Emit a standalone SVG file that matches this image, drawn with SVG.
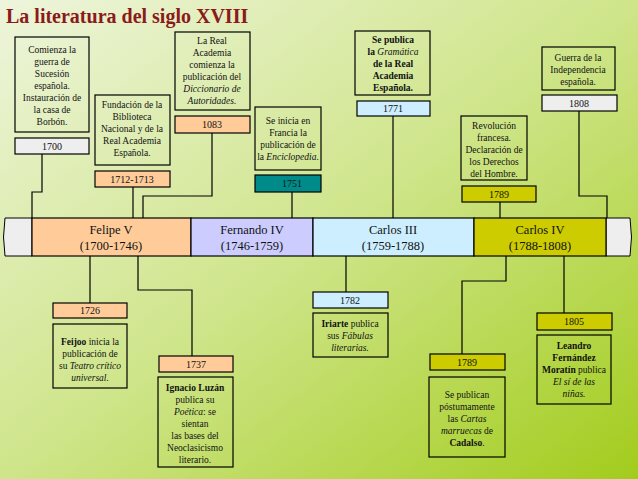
<svg xmlns="http://www.w3.org/2000/svg" width="638" height="479" viewBox="0 0 638 479" font-family="'Liberation Serif', serif">
<defs>
<linearGradient id="bg" x1="0" y1="0" x2="1" y2="1">
<stop offset="0" stop-color="#eef5dc"/><stop offset="0.5" stop-color="#cfe58a"/><stop offset="1" stop-color="#a2cc1c"/>
</linearGradient>
</defs>
<style>
.b{fill:none;stroke:#000;stroke-width:1.2}
.d{stroke:#000;stroke-width:1.2}
text,tspan{font-family:'Liberation Serif',serif}
text{font-size:9.5px;fill:#111;text-anchor:middle}
.dt{font-size:10px}
.r{font-size:12.5px}
.c{fill:none;stroke:#000;stroke-width:1.2}
</style>
<rect width="638" height="479" fill="url(#bg)"/>
<text x="6" y="23" style="font-size:20px;font-weight:bold;fill:#8b1a1a;text-anchor:start">La literatura del siglo XVIII</text>
<g id="connectors">
<path class="c" d="M42 154V192H32V218"/>
<path class="c" d="M133 187V218"/>
<path class="c" d="M212 133V196H143V218"/>
<path class="c" d="M292 192V218"/>
<path class="c" d="M393 116V218"/>
<path class="c" d="M500 202V218"/>
<path class="c" d="M579 111V196H607V218"/>
<path class="c" d="M90 256V303"/>
<path class="c" d="M138 256V290H192V356"/>
<path class="c" d="M346 256V292"/>
<path class="c" d="M506 256V281H462V354"/>
<path class="c" d="M564 256V313"/>
</g>
<g id="timeline">
<path d="M5 218H32V256H5Q2 237 5 218Z" fill="#eeeeee" stroke="#000"/>
<path d="M606 218H630Q633 237 630 256H606Z" fill="#eeeeee" stroke="#000"/>
<rect x="32" y="218" width="159" height="38" fill="#ffcc99" class="d"/>
<rect x="191" y="218" width="122" height="38" fill="#ccccff" class="d"/>
<rect x="313" y="218" width="161" height="38" fill="#cceeff" class="d"/>
<rect x="474" y="218" width="132" height="38" fill="#cccc00" class="d"/>
<text class="r" x="111" y="234">Felipe V</text><text class="r" x="111" y="250">(1700-1746)</text>
<text class="r" x="252" y="234">Fernando IV</text><text class="r" x="252" y="250">(1746-1759)</text>
<text class="r" x="393" y="234">Carlos III</text><text class="r" x="393" y="250">(1759-1788)</text>
<text class="r" x="540" y="234">Carlos IV</text><text class="r" x="540" y="250">(1788-1808)</text>
</g>
<g id="n1700">
<rect class="b" x="15" y="37" width="74" height="95"/>
<text x="52" y="53">Comienza la</text><text x="52" y="65">guerra de</text><text x="52" y="77">Sucesión</text><text x="52" y="89">española.</text><text x="52" y="101">Instauración de</text><text x="52" y="113">la casa de</text><text x="52" y="125">Borbón.</text>
<rect class="d" x="15" y="138" width="74" height="16" fill="#eeeeee"/><text class="dt" x="52" y="150">1700</text>
</g>
<g id="n1712">
<rect class="b" x="95" y="95" width="75" height="70"/>
<text x="132" y="108">Fundación de la</text><text x="132" y="120">Biblioteca</text><text x="132" y="132">Nacional y de la</text><text x="132" y="144">Real Academia</text><text x="132" y="156">Española.</text>
<rect class="d" x="95" y="171" width="75" height="16" fill="#ffcc99"/><text class="dt" x="132" y="183">1712-1713</text>
</g>
<g id="n1083">
<rect class="b" x="175" y="32" width="75" height="78"/>
<text x="212" y="44">La Real</text><text x="212" y="56">Academia</text><text x="212" y="68">comienza la</text><text x="212" y="80">publicación del</text><text x="212" y="92" font-style="italic">Diccionario de</text><text x="212" y="104" font-style="italic">Autoridades.</text>
<rect class="d" x="175" y="116" width="75" height="17" fill="#ffcc99"/><text class="dt" x="212" y="128">1083</text>
</g>
<g id="n1751">
<rect class="b" x="255" y="107" width="66" height="63"/>
<text x="288" y="124">Se inicia en</text><text x="288" y="136">Francia la</text><text x="288" y="148">publicación de</text><text x="288" y="160">la <tspan font-style="italic">Enciclopedia</tspan>.</text>
<rect class="d" x="255" y="175" width="66" height="17" fill="#008b8b"/><text class="dt" x="292" y="187">1751</text>
</g>
<g id="n1771">
<rect class="b" x="355" y="31" width="75" height="64"/>
<text x="393" y="43" font-weight="bold">Se publica</text><text x="393" y="55" font-weight="bold">la <tspan font-style="italic" font-weight="normal">Gramática</tspan></text><text x="393" y="67" font-weight="bold">de la Real</text><text x="393" y="79" font-weight="bold">Academia</text><text x="393" y="91" font-weight="bold">Española.</text>
<rect class="d" x="357" y="101" width="73" height="15" fill="#cceeff"/><text class="dt" x="393" y="112">1771</text>
</g>
<g id="n1789a">
<rect class="b" x="461" y="116" width="66" height="64"/>
<text x="494" y="129">Revolución</text><text x="494" y="141">francesa.</text><text x="494" y="153">Declaración de</text><text x="494" y="165">los Derechos</text><text x="494" y="177">del Hombre.</text>
<rect class="d" x="462" y="186" width="74" height="16" fill="#cccc00"/><text class="dt" x="499" y="198">1789</text>
</g>
<g id="n1808">
<rect class="b" x="542" y="47" width="73" height="43"/>
<text x="578" y="61">Guerra de la</text><text x="578" y="73">Independencia</text><text x="578" y="85">española.</text>
<rect class="d" x="542" y="95" width="75" height="16" fill="#eeeeee"/><text class="dt" x="579" y="107">1808</text>
</g>
<g id="n1726">
<rect class="d" x="53" y="303" width="74" height="15" fill="#ffcc99"/><text class="dt" x="90" y="314">1726</text>
<rect class="b" x="53" y="324" width="74" height="64"/>
<text x="90" y="345"><tspan font-weight="bold">Feijoo</tspan> inicia la</text><text x="90" y="357">publicación de</text><text x="90" y="369">su <tspan font-style="italic">Teatro crítico</tspan></text><text x="90" y="381" font-style="italic">universal.</text>
</g>
<g id="n1737">
<rect class="d" x="159" y="356" width="74" height="16" fill="#ffcc99"/><text class="dt" x="196" y="368">1737</text>
<rect class="b" x="158" y="377" width="75" height="90"/>
<text x="195" y="391" font-weight="bold">Ignacio Luzán</text><text x="195" y="403">publica su</text><text x="195" y="415"><tspan font-style="italic">Poética</tspan>: se</text><text x="195" y="427">sientan</text><text x="195" y="439">las bases del</text><text x="195" y="451">Neoclasicismo</text><text x="195" y="463">literario.</text>
</g>
<g id="n1782">
<rect class="d" x="313" y="292" width="75" height="16" fill="#cceeff"/><text class="dt" x="350" y="304">1782</text>
<rect class="b" x="313" y="313" width="75" height="44"/>
<text x="350" y="327"><tspan font-weight="bold">Iriarte</tspan> publica</text><text x="350" y="339">sus <tspan font-style="italic">Fábulas</tspan></text><text x="350" y="351" font-style="italic">literarias.</text>
</g>
<g id="n1789b">
<rect class="d" x="430" y="354" width="75" height="16" fill="#cccc00"/><text class="dt" x="467" y="366">1789</text>
<rect class="b" x="429" y="377" width="76" height="80"/>
<text x="467" y="398">Se publican</text><text x="467" y="410">póstumamente</text><text x="467" y="422">las <tspan font-style="italic">Cartas</tspan></text><text x="467" y="434"><tspan font-style="italic">marruecas</tspan> de</text><text x="467" y="446" font-weight="bold">Cadalso<tspan font-weight="normal">.</tspan></text>
</g>
<g id="n1805">
<rect class="d" x="537" y="313" width="75" height="17" fill="#cccc00"/><text class="dt" x="574" y="325">1805</text>
<rect class="b" x="537" y="335" width="74" height="69"/>
<text x="574" y="349" font-weight="bold">Leandro</text><text x="574" y="361" font-weight="bold">Fernández</text><text x="574" y="373"><tspan font-weight="bold">Moratín</tspan> publica</text><text x="574" y="385" font-style="italic">El sí de las</text><text x="574" y="397" font-style="italic">niñas.</text>
</g>
</svg>
